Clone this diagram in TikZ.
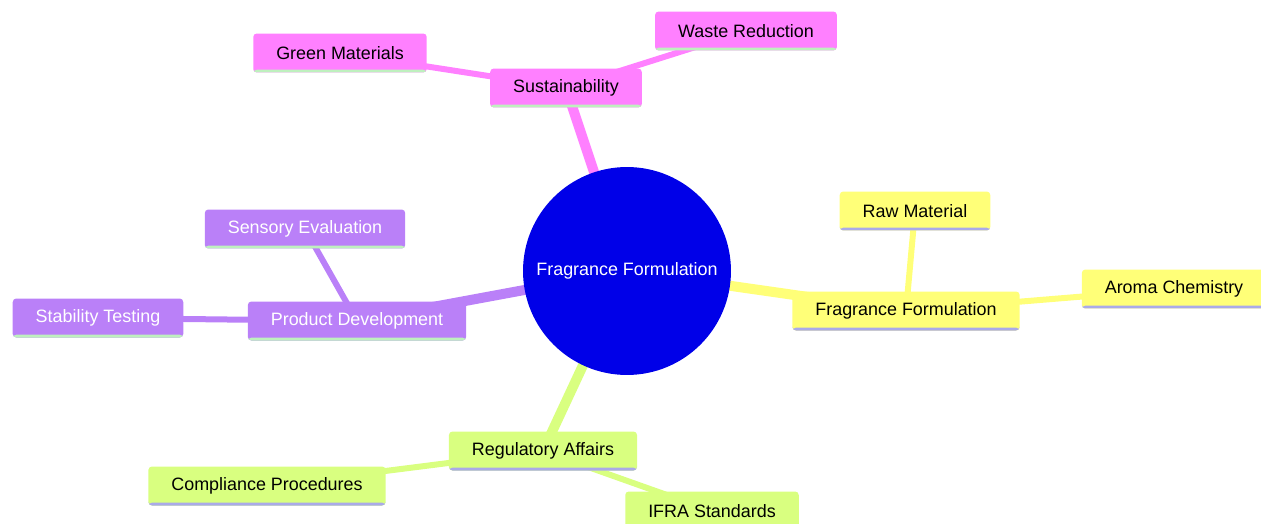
\documentclass[tikz,border=0pt]{standalone}
\usepackage{fontspec}
\setmainfont{Liberation Sans}
\usetikzlibrary{backgrounds}

\definecolor{pinkbranch}{RGB}{255,128,255}
\definecolor{purplebranch}{RGB}{186,128,248}
\definecolor{yellowbranch}{RGB}{255,255,120}
\definecolor{greenbranch}{RGB}{217,255,128}
\definecolor{rootblue}{RGB}{0,0,232}
\definecolor{mintline}{RGB}{190,240,190}
\definecolor{lavenderline}{RGB}{170,170,232}

\tikzset{
    leaf/.style 2 args={rectangle, rounded corners=2pt, fill=#1, inner xsep=0.46cm,
        minimum height=0.78cm, font=\fontsize{10.2}{12}\selectfont,
        path picture={\fill[#2] (path picture bounding box.south west)
            rectangle ([yshift=1.6pt]path picture bounding box.south east);}},
    trunk/.style={line width=0.2cm},
    twig/.style={line width=0.12cm}
}

\begin{document}
\begin{tikzpicture}[x=0.02cm, y=-0.02cm]

            \useasboundingbox (0, 0) rectangle (1261, 524);

            %root
            \node[circle, fill=rootblue, minimum size=4.16cm, inner sep=0pt, text=white,
                font=\fontsize{10.2}{12}\selectfont] (root) at (627, 271) {Fragrance Formulation};

            %sustainability branch
            \node[leaf={pinkbranch}{mintline}] (sus) at (566, 88) {Sustainability};
            \node[leaf={pinkbranch}{mintline}] (green) at (340, 53) {Green Materials};
            \node[leaf={pinkbranch}{mintline}] (waste) at (746, 31) {Waste Reduction};

            %formulation branch
            \node[leaf={yellowbranch}{lavenderline}] (form) at (906, 311) {Fragrance Formulation};
            \node[leaf={yellowbranch}{lavenderline}] (raw) at (915, 211) {Raw Material};
            \node[leaf={yellowbranch}{lavenderline}] (aroma) at (1174, 289) {Aroma Chemistry};

            %product development branch
            \node[leaf={purplebranch}{mintline}, text=white] (prod) at (357, 321) {Product Development};
            \node[leaf={purplebranch}{mintline}, text=white] (sens) at (305, 229) {Sensory Evaluation};
            \node[leaf={purplebranch}{mintline}, text=white] (stab) at (98, 318) {Stability Testing};

            %regulatory branch
            \node[leaf={greenbranch}{lavenderline}] (reg) at (543, 451) {Regulatory Affairs};
            \node[leaf={greenbranch}{lavenderline}] (comp) at (267, 486) {Compliance Procedures};
            \node[leaf={greenbranch}{lavenderline}] (ifra) at (712, 511) {IFRA Standards};

            \begin{scope}[on background layer]

                %connections root
                \foreach \lo/\lc in {sus/pinkbranch, form/yellowbranch, prod/purplebranch, reg/greenbranch}{
                    \draw[trunk, draw=\lc] (root.center) -- (\lo.center);
                };

                %connections leaves
                \foreach \lo/\lu/\lc in {sus/green/pinkbranch, sus/waste/pinkbranch,
                    form/raw/yellowbranch, form/aroma/yellowbranch,
                    prod/sens/purplebranch, prod/stab/purplebranch,
                    reg/comp/greenbranch, reg/ifra/greenbranch}{
                    \draw[twig, draw=\lc] (\lo.center) -- (\lu.center);
                };
            \end{scope}
        \end{tikzpicture}
\end{document}
